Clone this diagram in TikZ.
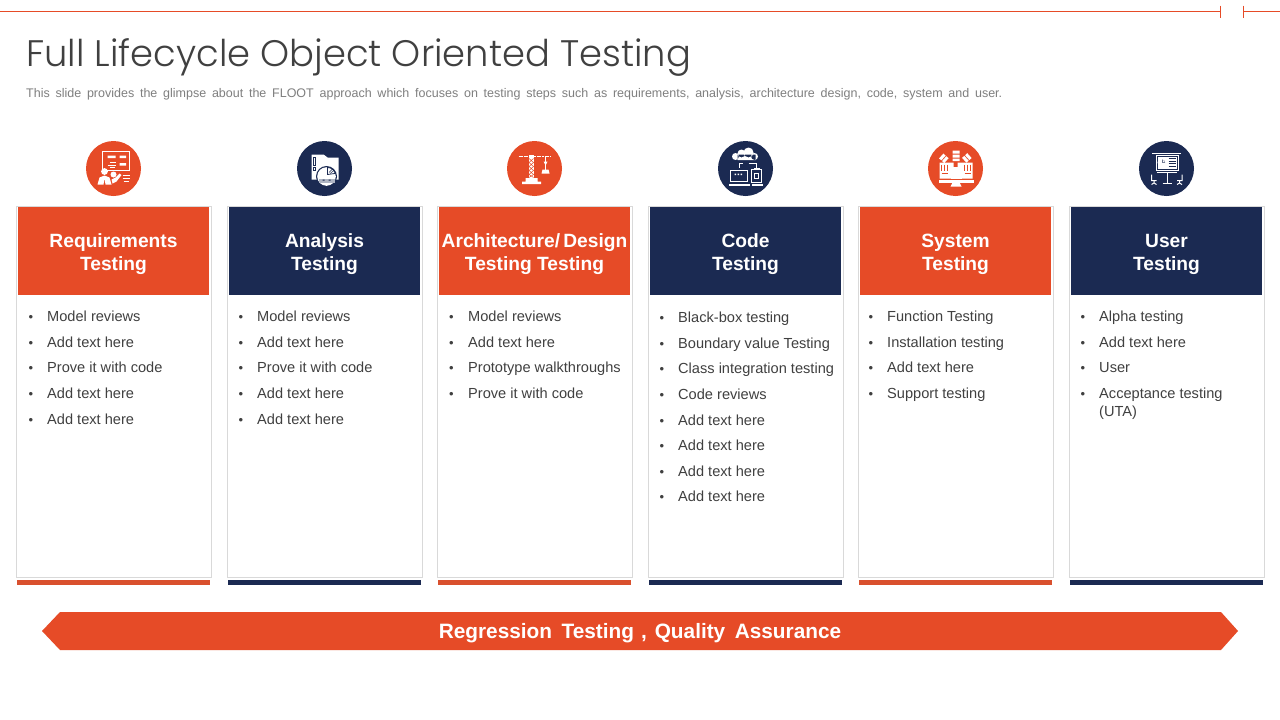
\documentclass[tikz,border=0pt]{standalone}
\usepackage{fontspec}
\setmainfont{Liberation Sans}
\newfontfamily\titlefont[UprightFont=* Light]{Poppins}
\newfontfamily\subfont[WordSpace=1.66]{Liberation Sans}
\definecolor{orng}{HTML}{E64B27}
\definecolor{orngbar}{HTML}{D9502E}
\definecolor{navy}{HTML}{1B2A52}
\definecolor{cardline}{HTML}{D9D9D9}
\definecolor{txt}{HTML}{404040}
\definecolor{subt}{HTML}{7F7F7F}
\newcounter{itmc}
\tikzset{
 card/.style={draw=cardline,line width=1pt,fill=white,minimum width=195pt,minimum height=371pt,inner sep=0pt},
 headbox/.style={minimum width=191.5pt,minimum height=88pt,inner sep=0pt},
 headtext/.style={inner sep=0pt,text=white,align=center,font=\fontsize{19.2}{23}\selectfont\bfseries},
 footbar/.style={minimum width=193pt,minimum height=4.5pt,inner sep=0pt},
 disc/.style={circle,minimum size=55pt,inner sep=0pt},
 itemtext/.style={anchor=base west,inner sep=0pt,text=txt,font=\fontsize{14.6}{18}\selectfont,align=left},
 bull/.style={anchor=base,inner sep=0pt,text=txt,font=\fontsize{13}{18}\selectfont},
 ic/.style={white,line width=0.8pt},
}
% #1 name #2 card left x #3 colour #4 heading #5 bar colour
\newcommand{\column}[5]{%
 \pgfmathsetmacro{\cx}{#2+97.5}%
 \pgfmathsetmacro{\hx}{#2+97}%
 \node[card] (card#1) at (\cx,391.5) {};
 \node[headbox,fill=#3] (head#1) at (\hx,251) {};
 \node[headtext] (headt#1) at (\hx,254) {#4};
 \node[footbar,fill=#5] (foot#1) at (\hx,582.7) {};
 \node[disc,fill=#3] (disc#1) at (\hx,168.5) {};
}
% #1 bullet x #2 text x #3 baseline y #4 text
\newcommand{\itm}[4]{%
 \stepcounter{itmc}%
 \node[bull] (b\theitmc) at (#1,#3) {•};
 \node[itemtext] (t\theitmc) at (#2,#3) {#4};
}
\begin{document}
\begin{tikzpicture}[x=1pt,y=-1pt]
\useasboundingbox (0,0) rectangle (1280,720);
\fill[white] (0,0) rectangle (1280,720);
% top rule
\coordinate (ra) at (0,11.5); \coordinate (rb) at (1220.5,11.5);
\coordinate (rc) at (1243.5,11.5); \coordinate (rd) at (1280,11.5);
\draw[orng,line width=1pt] (ra) -- (rb) (rc) -- (rd);
\draw[orng,line width=1pt] (1220.5,5.5) -- (1220.5,17.5) (1243.5,5.5) -- (1243.5,17.5);
% titles
\node[anchor=base west,inner sep=0pt,text=txt,font=\titlefont\fontsize{36.9}{40}\selectfont] (title) at (26,66) {Full Lifecycle Object Oriented Testing};
\node[anchor=base west,inner sep=0pt,text=subt,font=\subfont\fontsize{12.5}{14}\selectfont] (sub) at (26,97) {This slide provides\ the glimpse about the FLOOT\ approach\ which focuses on testing steps such as requirements,\ analysis, architecture design,\ code, system and user.};
% columns
\column{A}{16.5}{orng}{Requirements\\Testing}{orngbar}
\column{B}{227.5}{navy}{Analysis\\Testing}{navy}
\column{C}{437.5}{orng}{Architecture/\,Design\\Testing Testing}{orngbar}
\column{D}{648.5}{navy}{Code\\Testing}{navy}
\column{E}{858.5}{orng}{System\\Testing}{orngbar}
\column{F}{1069.5}{navy}{User\\Testing}{navy}
% lists
\itm{31}{47}{321}{Model reviews}
\itm{31}{47}{347}{Add text here}
\itm{31}{47}{372}{Prove it with code}
\itm{31}{47}{398}{Add text here}
\itm{31}{47}{424}{Add text here}
\itm{241}{257}{321}{Model reviews}
\itm{241}{257}{347}{Add text here}
\itm{241}{257}{372}{Prove it with code}
\itm{241}{257}{398}{Add text here}
\itm{241}{257}{424}{Add text here}
\itm{451.5}{468}{321}{Model reviews}
\itm{451.5}{468}{347}{Add text here}
\itm{451.5}{468}{372}{Prototype walkthroughs}
\itm{451.5}{468}{398}{Prove it with code}
\itm{662}{678}{322}{Black-box testing}
\itm{662}{678}{348}{Boundary value Testing}
\itm{662}{678}{373}{Class integration testing}
\itm{662}{678}{399}{Code reviews}
\itm{662}{678}{425}{Add text here}
\itm{662}{678}{450}{Add text here}
\itm{662}{678}{476}{Add text here}
\itm{662}{678}{501}{Add text here}
\itm{871}{887}{321}{Function Testing}
\itm{871}{887}{347}{Installation testing}
\itm{871}{887}{372}{Add text here}
\itm{871}{887}{398}{Support testing}
\itm{1083}{1099}{321}{Alpha testing}
\itm{1083}{1099}{347}{Add text here}
\itm{1083}{1099}{372}{User}
\itm{1083}{1099}{398}{Acceptance testing}
\node[itemtext] (uta) at (1099,416) {(UTA)};
% banner
\fill[orng] (42,631) -- (60,612) -- (1221,612) -- (1238,631) -- (1221,650) -- (60,650) -- cycle;
\node[inner sep=0pt,text=white,font=\fontsize{20.8}{24}\selectfont\bfseries] (banner) at (640,633.5) {Regression\hspace{9.5pt}Testing\hspace{7pt},\hspace{8pt}Quality\hspace{9.5pt}Assurance};
% icon A: presenter and board
\begin{scope}[shift={(discA.center)}]
 \draw[ic] (-11,-17) rectangle (16,2);
 \fill[white] (-6,-13) rectangle (2,-10.5) (6,-13) rectangle (12.5,-10.5) (6,-5.5) rectangle (12.5,-3);
 \draw[white,line width=0.5pt] (-4,-6) -- (2,-6) (-6,-3.5) -- (2,-3.5) (-4,-1) -- (1,-1);
 \fill[white] (-9,3) circle (3.4);
 \fill[white] (-16,16) -- (-14,9) -- (-9,7) -- (-4,9) -- (-2,16) -- (-8,16) -- (-9,10) -- (-10,16) -- cycle;
 \fill[white] (0,6) circle (3);
 \fill[white] (-2,11) -- (2,9) -- (6,5) -- (8,6.5) -- (3,13) -- (-1,15) -- cycle;
 \draw[white,line width=0.7pt] (9,7) -- (16,7);
 \draw[white,line width=0.5pt] (9,10) -- (16,10) (10,12.5) -- (15,12.5);
\end{scope}
% icon B: folder and pie
\begin{scope}[shift={(discB.center)}]
 \fill[white] (-13,-14) -- (-1,-14) -- (3,-11) -- (14,-11) -- (14,11) -- (-13,11) -- cycle;
 \draw[navy,line width=0.7pt] (-11,-11) rectangle (-9,-3);
 \draw[navy,line width=0.7pt] (-11,-1) rectangle (-9,1.5);
 \fill[navy] (2,8) circle (10.5);
 \fill[white] (2,8) circle (9.3);
 \draw[navy,line width=0.8pt] (3,6) -- (3,-1) arc (-90:-15:8) -- cycle;
 \draw[navy,line width=0.5pt] (4.5,4) -- (8,0.5) (5.5,5) -- (9.5,2);
 \fill[navy!35!white] (-6,10) rectangle (10,14);
 \fill[navy] (-2,11) rectangle (0,12) (4,11) rectangle (6,12);
\end{scope}
% icon C: tower crane
\begin{scope}[shift={(discC.center)}]
 \fill[white] (-12.5,13) rectangle (6.5,15.5) (-9,9.5) rectangle (3,13);
 \fill[white] (-5.5,-14) rectangle (-1,9.5);
 \draw[orng,line width=0.5pt] (-5.5,-10) -- (-1,-6) -- (-5.5,-2) -- (-1,2) -- (-5.5,6) -- (-1,9)
  (-1,-10) -- (-5.5,-6) -- (-1,-2) -- (-5.5,2) -- (-1,6) -- (-5.5,9);
 \draw[white,line width=1.3pt,dash pattern=on 2pt off 0.6pt] (-16,-12) -- (16,-12);
 \draw[white,line width=0.7pt] (11,-12) -- (11,1);
 \fill[white] (9,-7) -- (13,-7) -- (11,-3) -- cycle;
 \fill[white] (8,1) -- (14,1) -- (15,5) -- (7,5) -- cycle;
\end{scope}
% icon D: cloud, laptop and device
\begin{scope}[shift={(discD.center)}]
 \fill[white] (-10,-12) circle (3.5) (-4,-15) circle (4) (3,-16) circle (5) (9,-12) circle (3.5) (-8,-14) rectangle (10,-8.5);
 \draw[white,line width=0.6pt] (-3,-5) -- (-6,-5) -- (-6,-1);
 \draw[white,line width=0.6pt] (3,-5) -- (11,-5) -- (11,-1);
 \draw[white,line width=0.9pt] (-15,2) rectangle (2,13);
 \fill[white] (-17,15) rectangle (4,17);
 \fill[white] (-11,5) rectangle (-9.5,6.5) (-8,5) rectangle (-6.5,6.5) (-5,5) rectangle (-3.5,6.5);
 \draw[white,line width=0.9pt] (6,1) rectangle (16,14);
 \fill[white] (8,-1) rectangle (14,1.5);
 \fill[white] (6,15) rectangle (17,17);
 \draw[white,line width=0.6pt] (9,5) rectangle (13,10);
\end{scope}
% icon E: monitor with data rays
\begin{scope}[shift={(discE.center)}]
 \fill[white] (-16,-6) rectangle (-2,10) (2,-6) rectangle (17,10);
 \fill[white] (-5,-2) rectangle (6,10);
 \fill[white] (-3,-18) rectangle (4,-15) (-3,-14) rectangle (4,-11) (-3,-10) rectangle (4,-7.5);
 \fill[white,rotate=-48] (-3.5,-19) rectangle (3,-16) (-3.5,-15) rectangle (3,-12);
 \fill[white,rotate=48] (-3.5,-19) rectangle (3,-16) (-3.5,-15) rectangle (3,-12);
 \draw[orng,line width=0.6pt] (-14,-4) -- (-14,2) (-11,-4) -- (-11,2) (-8,-4) -- (-8,2) (9,-4) -- (9,2) (12,-4) -- (12,2) (15,-4) -- (15,2);
 \draw[orng,line width=0.8pt] (-14,5) -- (-8,5) (9,5) -- (15,5);
 \fill[white] (-17,11) rectangle (18,14);
 \fill[white] (-3,14) -- (4,14) -- (6,18) -- (-5,18) -- cycle;
\end{scope}
% icon F: presentation screen and chairs
\begin{scope}[shift={(discF.center)}]
 \fill[white] (-14.5,-15.5) rectangle (14,-14.3);
 \fill[white] (-11,-14) rectangle (12.5,2);
 \draw[navy,line width=0.7pt] (-9,-12) rectangle (11,0.5);
 \fill[white] (-4.5,-6) circle (4.5);
 \fill[navy] (-4.5,-6) -- (-4.5,-9) arc (-90:0:3) -- cycle;
 \fill[white] (-4,-6.5) -- (-4,-8.6) arc (-90:0:2.1) -- cycle;
 \draw[navy,line width=0.7pt] (2,-10) -- (9,-10) (2,-7.5) -- (9,-7.5) (2,-5) -- (9,-5) (2,-2.5) -- (9,-2.5);
 \draw[white,line width=1pt] (-10,4) -- (10,4) (0.5,4) -- (0.5,15) (-4,15) -- (5,15);
 \draw[white,line width=1pt] (-15,6) -- (-15,12) -- (-10,12) (-12.5,12) -- (-12.5,15) (-15,16) -- (-12.5,14.5) -- (-10,16);
 \draw[white,line width=1pt] (15.5,6) -- (15.5,12) -- (10.5,12) (13,12) -- (13,15) (15.5,16) -- (13,14.5) -- (10.5,16);
\end{scope}
\end{tikzpicture}
\end{document}
